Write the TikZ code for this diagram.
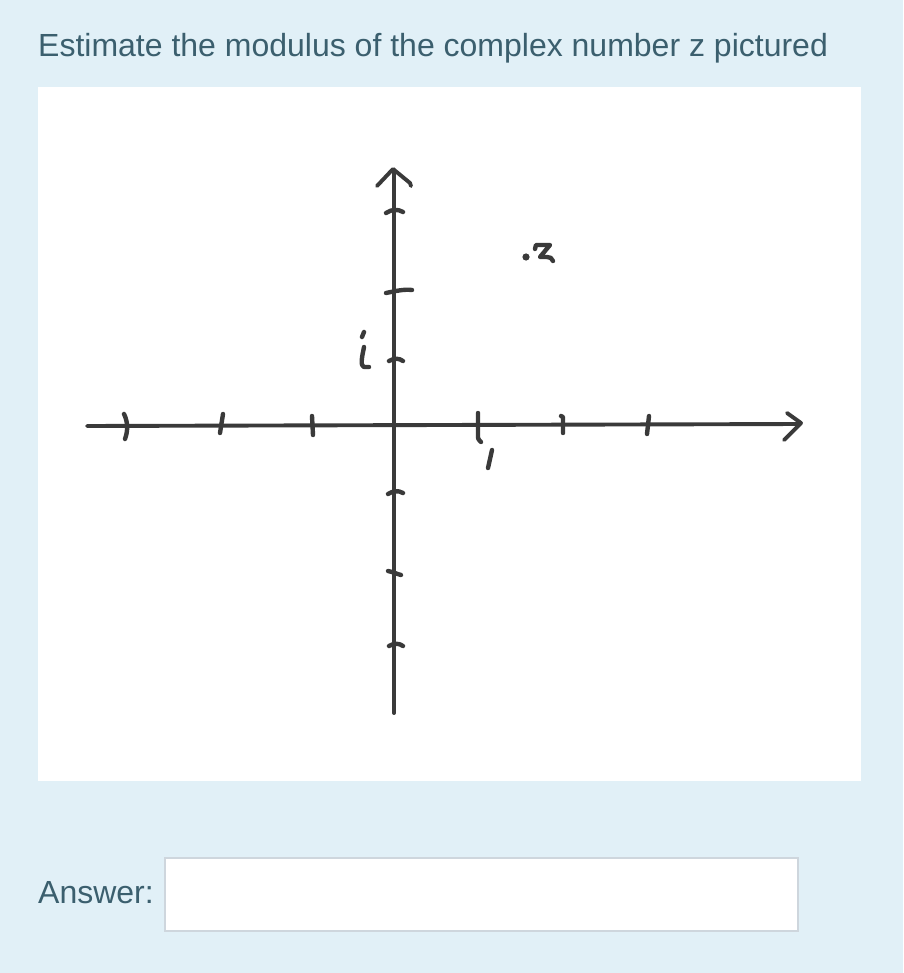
\documentclass[tikz,border=0pt]{standalone}
\usepackage{fontspec}
\setmainfont{Liberation Sans}
\definecolor{bgc}{HTML}{E1F0F7}
\definecolor{txc}{HTML}{3B5F6E}
\definecolor{penc}{HTML}{3A3A3A}
\definecolor{boxc}{HTML}{CED6DD}
\begin{document}
\begin{tikzpicture}[x=1pt,y=-1pt,
  pen/.style={draw=penc,line width=3.9pt,line cap=round,line join=round},
  tickpen/.style={pen,line width=4.4pt},
  label/.style={anchor=base west,inner sep=0pt,text=txc,font=\fontsize{32}{38}\selectfont}]
\useasboundingbox (0,0) rectangle (903,973);
\fill[bgc] (0,0) rectangle (903,973);
\fill[white] (38,87) rectangle (861,781);
\node[label] (title) at (38,57) {Estimate the modulus of the complex number z pictured};
\node[label] (answer) at (38,903) {Answer:};
\node[draw=boxc,line width=2pt,fill=white,anchor=north west,inner sep=0pt,
      minimum width=633pt,minimum height=73pt] (ansbox) at (164,857) {};
% real axis
\draw[pen] (87,426) -- (800,424);
\draw[pen] (787,413) -- (801,423) -- (784,440);
% imaginary axis
\draw[pen] (394,170) -- (394,713);
\draw[pen] (377,186) -- (393,169) -- (410,183) -- (411,186);
% ticks on the imaginary axis
\draw[tickpen] (386,213) .. controls (392,209) and (398,209) .. (403,212);
\draw[tickpen] (386,293) .. controls (396,291) and (404,289) .. (412,290);
\draw[tickpen] (389,361) .. controls (394,358) and (399,358) .. (403,361);
\draw[tickpen] (388,494) .. controls (393,491) and (398,490) .. (403,493);
\draw[tickpen] (388,571) .. controls (393,572) and (397,574) .. (401,575);
\draw[tickpen] (389,646) .. controls (394,643) and (399,643) .. (403,646);
% ticks on the real axis
\draw[tickpen] (124,414) .. controls (128,422) and (128,431) .. (125,439);
\draw[tickpen] (223,414) -- (220,433);
\draw[tickpen] (312,416) -- (313,435);
\draw[tickpen] (478,413) -- (478,435) .. controls (478,439) .. (481,442);
\draw[tickpen] (561,416) -- (563,417) -- (563,433);
\draw[tickpen] (649,416) -- (647,434);
% label 1
\draw[tickpen] (492,450) -- (488,468);
% label i
\draw[tickpen] (364,332) -- (362,337);
\draw[tickpen] (364,347) .. controls (362,357) and (360,366) .. (364,367) -- (369,367);
% point z
\fill[penc] (526,257) circle (3.6pt);
\draw[tickpen] (535,249) -- (536,245) -- (550,245) -- (540,257) -- (547,257) .. controls (550,257) and (552,258) .. (553,261);
\end{tikzpicture}
\end{document}
